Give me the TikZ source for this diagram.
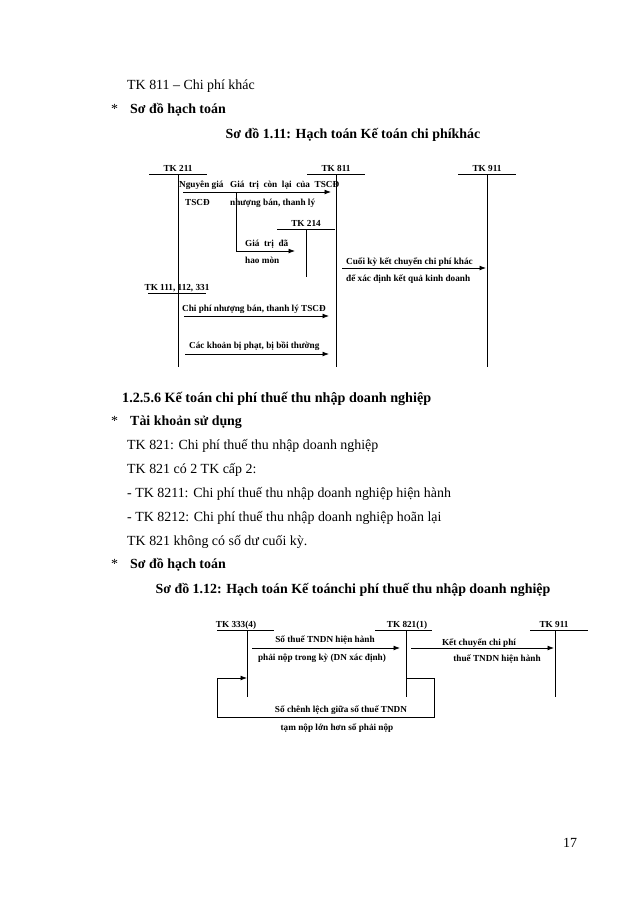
\documentclass[tikz,border=0pt]{standalone}
\usepackage{fontspec}
\setmainfont{Liberation Serif}
\usetikzlibrary{arrows.meta}

\begin{document}
\begin{tikzpicture}[x=0.933pt,y=-0.933pt,
        txt/.style={anchor=base west,inner sep=0pt,font=\fontsize{13}{16}\selectfont},
        headtxt/.style={txt,font=\fontsize{13}{16}\selectfont\bfseries},
        lbl/.style={anchor=base west,inner sep=0pt,font=\fontsize{8.6}{10}\selectfont\bfseries},
        lblc/.style={lbl,anchor=base},
        acct/.style={line width=0.65pt},
        arr/.style={-{Latex[length=6pt,width=4.5pt]},line width=0.75pt}]

            \fill[white] (0,0) rectangle (638,902);
            \useasboundingbox (0,0) rectangle (638,902);

            % page text
            \node[txt] (l1) at (127,89) {TK 811 -- Chi phí khác};
            \node[txt] (s1) at (111,113) {*};
            \node[headtxt] (h1) at (130,113) {Sơ đồ hạch toán};
            \node[headtxt,anchor=base] (c1) at (353,138) {Sơ đồ 1.11: Hạch toán Kế toán chi phíkhác};

            \node[headtxt,font=\fontsize{13.2}{16}\selectfont\bfseries] (h2) at (122,402) {1.2.5.6 Kế toán chi phí thuế thu nhập doanh nghiệp};
            \node[txt] (s2) at (111,425) {*};
            \node[headtxt] (h3) at (130,425) {Tài khoản sử dụng};
            \node[txt] (l2) at (127,449) {TK 821: Chi phí thuế thu nhập doanh nghiệp};
            \node[txt] (l3) at (127,473) {TK 821 có 2 TK cấp 2:};
            \node[txt] (l4) at (127,497) {- TK 8211: Chi phí thuế thu nhập doanh nghiệp hiện hành};
            \node[txt] (l5) at (127,521) {- TK 8212: Chi phí thuế thu nhập doanh nghiệp hoãn lại};
            \node[txt] (l6) at (127,545) {TK 821 không có số dư cuối kỳ.};
            \node[txt] (s3) at (111,568) {*};
            \node[headtxt] (h4) at (130,568) {Sơ đồ hạch toán};
            \node[headtxt,anchor=base] (c2) at (353,593) {Sơ đồ 1.12: Hạch toán Kế toánchi phí thuế thu nhập doanh nghiệp};
            \node[txt,anchor=base] (pg) at (570,847) {17};

            % so do 1.11
            \foreach \nm/\xx/\yy/\yb/\txt in {t211/178/174/367/{TK 211},t811/336/174/367/{TK 811},
                t911/487/174/367/{TK 911},t214/306/229/277/{TK 214}}{
                \coordinate (\nm) at (\xx,\yy);
                \node[lblc] (\nm-l) at (\xx,\yy-3) {\txt};
                \draw[acct] (\xx-29,\yy) -- (\xx+29,\yy);
                \draw[acct] (\nm) -- (\xx,\yb);
            }
            \node[lblc] (t111-l) at (177,290) {TK 111, 112, 331};
            \draw[acct] (148,293) -- (206,293);

            \coordinate (a1) at (183,192);
            \coordinate (a2) at (331,192);
            \coordinate (b1) at (236,192);
            \coordinate (b2) at (295,251);
            \coordinate (k1) at (342,268);
            \coordinate (k2) at (486,268);
            \coordinate (p1) at (184,316);
            \coordinate (p2) at (329,316);
            \coordinate (q1) at (185,354);
            \coordinate (q2) at (329,354);

            \draw[arr] (a1) -- (a2);
            \draw[arr] (b1) |- (b2);
            \draw[arr] (k1) -- (k2);
            \draw[arr] (p1) -- (p2);
            \draw[arr] (q1) -- (q2);

            \node[lbl] (n1) at (179,187) {Nguyên giá};
            \node[lbl] (n2) at (230,187) {Giá\ \ trị\ \ còn\ \ lại\ \ của\ \ TSCĐ};
            \node[lbl] (n3) at (185,205) {TSCĐ};
            \node[lbl] (n4) at (230,205) {nhượng bán, thanh lý};
            \node[lbl] (n5) at (245,246) {Giá\ \ trị\ \ đã};
            \node[lbl] (n6) at (245,263) {hao mòn};
            \node[lbl] (n7) at (346,264) {Cuối kỳ kết chuyển chi phí khác};
            \node[lbl] (n8) at (346,281) {để xác định kết quả kinh doanh};
            \node[lbl] (n9) at (182,311) {Chi phí nhượng bán, thanh lý TSCĐ};
            \node[lbl] (n10) at (189,348) {Các khoản bị phạt, bị bồi thường};

            % so do 1.12
            \foreach \nm/\xx/\xl/\xr/\xt/\txt in {t333/247/217/274/236/{TK 333(4)},
                t821/406/375/432/407/{TK 821(1)},t911b/555/530/588/554/{TK 911}}{
                \coordinate (\nm) at (\xx,630);
                \node[lblc] (\nm-l) at (\xt,627) {\txt};
                \draw[acct] (\xl,630) -- (\xr,630);
                \draw[acct] (\nm) -- (\xx,697);
            }

            \coordinate (d1) at (252,648);
            \coordinate (d2) at (400,648);
            \coordinate (e1) at (411,648);
            \coordinate (e2) at (554,648);
            \coordinate (r1) at (406,678);
            \coordinate (r2) at (434,717);
            \coordinate (r3) at (217,678);
            \coordinate (r4) at (247,678);

            \draw[arr] (d1) -- (d2);
            \draw[arr] (e1) -- (e2);
            \draw[arr] (r1) -| (r2) -| (r3) -- (r4);

            \node[lblc] (m1) at (325,642) {Số thuế TNDN hiện hành};
            \node[lblc] (m2) at (322,660) {phải nộp trong kỳ (DN xác định)};
            \node[lblc] (m3) at (479,645) {Kết chuyển chi phí};
            \node[lblc] (m4) at (497,661) {thuế TNDN hiện hành};
            \node[lblc] (m5) at (341,712) {Số chênh lệch giữa số thuế TNDN};
            \node[lblc] (m6) at (337,730) {tạm nộp lớn hơn số phải nộp};
        \end{tikzpicture}
\end{document}
